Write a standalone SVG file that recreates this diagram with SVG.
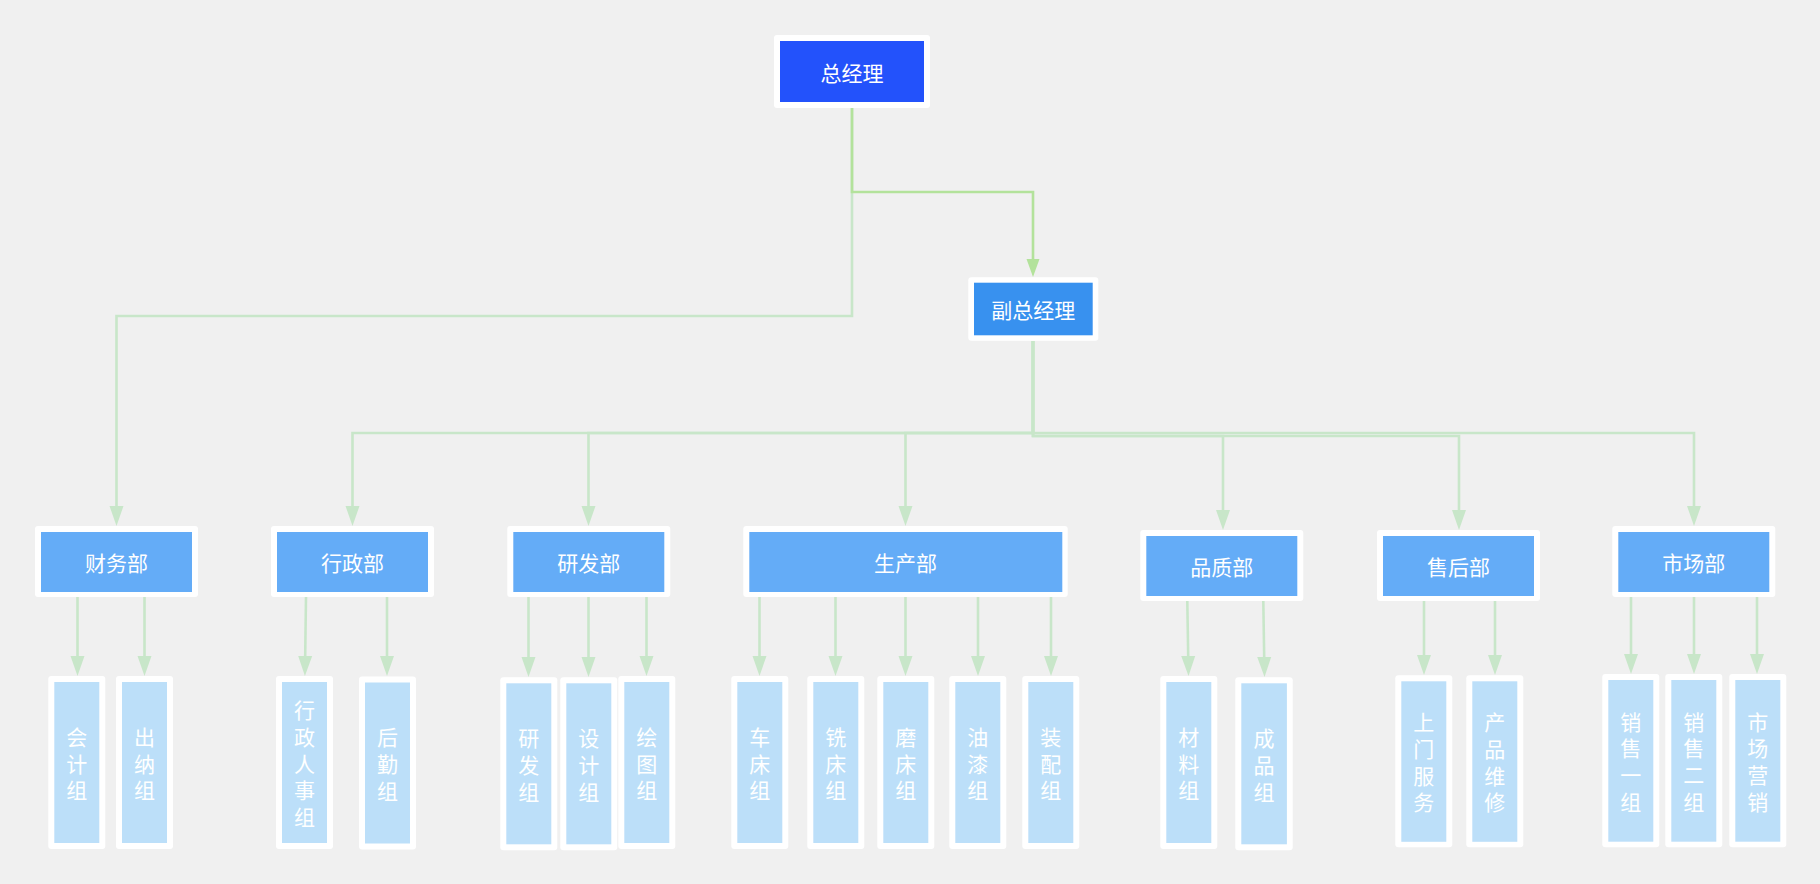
<svg xmlns="http://www.w3.org/2000/svg" width="1820" height="884" viewBox="0 0 1820 884">
<defs>
<style>
.o{fill:#ffffff}
.top{fill:#2352fb}
.vice{fill:#3891ef}
.dept{fill:#64acf7}
.sub{fill:#bcdff9}
text{font-family:"Noto Sans CJK SC","Noto Sans",sans-serif;font-size:21px;fill:#ffffff;text-anchor:middle;dominant-baseline:central}
.c{fill:none;stroke:#c8e6c9;stroke-width:2.6}
.cb{fill:none;stroke:#b3e29b;stroke-width:2.6}
</style>
<marker id="ap" markerUnits="userSpaceOnUse" markerWidth="20" markerHeight="14" viewBox="0 -7 20 14" refX="0" refY="0" orient="auto" overflow="visible">
<path d="M0,-7 L20,0 L0,7 z" fill="#c8e6c9"/>
</marker>
<marker id="ab" markerUnits="userSpaceOnUse" markerWidth="18" markerHeight="13" viewBox="0 -6.5 18 13" refX="0" refY="0" orient="auto" overflow="visible">
<path d="M0,-6.5 L18,0 L0,6.5 z" fill="#b3e29b"/>
</marker>
</defs>
<rect x="0" y="0" width="1820" height="884" fill="#f0f0f0"/>

<g id="connectors">
<path class="c" d="M852,108 V316 H116.5 V506" marker-end="url(#ap)"/>
<path class="cb" d="M852,108 V192 H1033 V259" marker-end="url(#ab)"/>
<path class="c" d="M1033,341 V433 H352.5 V506" marker-end="url(#ap)"/>
<path class="c" d="M1033,341 V433 H588.5 V506" marker-end="url(#ap)"/>
<path class="c" d="M1033,341 V433 H905.5 V506" marker-end="url(#ap)"/>
<path class="c" d="M1033,341 V436 H1223 V510" marker-end="url(#ap)"/>
<path class="c" d="M1033,341 V436 H1459 V510" marker-end="url(#ap)"/>
<path class="c" d="M1033,341 V433 H1694 V506" marker-end="url(#ap)"/>
<path class="c" d="M77.5,597 V656" marker-end="url(#ap)"/>
<path class="c" d="M144.5,597 V656" marker-end="url(#ap)"/>
<path class="c" d="M306,597 L305.2,656" marker-end="url(#ap)"/>
<path class="c" d="M387,597 V656" marker-end="url(#ap)"/>
<path class="c" d="M528.5,597 V657" marker-end="url(#ap)"/>
<path class="c" d="M588.5,597 V657" marker-end="url(#ap)"/>
<path class="c" d="M646.5,597 V656" marker-end="url(#ap)"/>
<path class="c" d="M759.5,597 V656" marker-end="url(#ap)"/>
<path class="c" d="M835.5,597 V656" marker-end="url(#ap)"/>
<path class="c" d="M905.5,597 V656" marker-end="url(#ap)"/>
<path class="c" d="M978,597 V656" marker-end="url(#ap)"/>
<path class="c" d="M1051,597 V656" marker-end="url(#ap)"/>
<path class="c" d="M1187.3,601 L1188.2,656" marker-end="url(#ap)"/>
<path class="c" d="M1263.3,601 L1264.2,657" marker-end="url(#ap)"/>
<path class="c" d="M1424,601 V655" marker-end="url(#ap)"/>
<path class="c" d="M1495,601 V655" marker-end="url(#ap)"/>
<path class="c" d="M1631,597 V654" marker-end="url(#ap)"/>
<path class="c" d="M1694,597 V654" marker-end="url(#ap)"/>
<path class="c" d="M1757,597 V654" marker-end="url(#ap)"/>
</g>

<g id="n-zjl">
<rect class="o" x="774" y="35" width="156" height="73" rx="3"/>
<rect class="top" x="780" y="41" width="144" height="61"/>
<text x="852" y="71.5">总经理</text>
</g>
<g id="n-fzjl">
<rect class="o" x="968.3" y="277.3" width="130" height="63.4" rx="3"/>
<rect class="vice" x="974" y="282.7" width="118.7" height="52.6"/>
<text x="1033.3" y="309">副总经理</text>
</g>

<g id="d-cw">
<rect class="o" x="35" y="526" width="163" height="71" rx="3"/>
<rect class="dept" x="41" y="532" width="151" height="60"/>
<text x="116.5" y="562">财务部</text>
</g>
<g id="d-xz">
<rect class="o" x="271" y="526" width="163" height="71" rx="3"/>
<rect class="dept" x="277" y="532" width="151" height="60"/>
<text x="352.5" y="562">行政部</text>
</g>
<g id="d-yf">
<rect class="o" x="507.3" y="526" width="163" height="71" rx="3"/>
<rect class="dept" x="513.3" y="532" width="151" height="60"/>
<text x="588.8" y="562">研发部</text>
</g>
<g id="d-sc">
<rect class="o" x="743.3" y="526" width="324.4" height="71" rx="3"/>
<rect class="dept" x="749.3" y="532" width="313" height="60"/>
<text x="905.5" y="562">生产部</text>
</g>
<g id="d-pz">
<rect class="o" x="1140.3" y="530" width="163" height="71" rx="3"/>
<rect class="dept" x="1146.3" y="536" width="151" height="60"/>
<text x="1221.8" y="566">品质部</text>
</g>
<g id="d-sh">
<rect class="o" x="1377" y="530" width="163" height="71" rx="3"/>
<rect class="dept" x="1383" y="536" width="151" height="60"/>
<text x="1458.5" y="566">售后部</text>
</g>
<g id="d-scb">
<rect class="o" x="1612.3" y="526" width="163" height="71" rx="3"/>
<rect class="dept" x="1618.3" y="532" width="151" height="60"/>
<text x="1693.8" y="562">市场部</text>
</g>

<g id="s-kj">
<rect class="o" x="48.3" y="676" width="57" height="173" rx="3"/>
<rect class="sub" x="54.3" y="682" width="45" height="161"/>
<text><tspan x="76.8" y="735.8">会</tspan><tspan x="76.8" y="762.5">计</tspan><tspan x="76.8" y="789.2">组</tspan></text>
</g>
<g id="s-cn">
<rect class="o" x="116" y="676" width="57" height="173" rx="3"/>
<rect class="sub" x="122" y="682" width="45" height="161"/>
<text><tspan x="144.5" y="735.8">出</tspan><tspan x="144.5" y="762.5">纳</tspan><tspan x="144.5" y="789.2">组</tspan></text>
</g>
<g id="s-xzrs">
<rect class="o" x="276" y="676" width="57" height="173" rx="3"/>
<rect class="sub" x="282" y="682" width="45" height="161"/>
<text><tspan x="304.5" y="709.1">行</tspan><tspan x="304.5" y="735.8">政</tspan><tspan x="304.5" y="762.5">人</tspan><tspan x="304.5" y="789.2">事</tspan><tspan x="304.5" y="815.9">组</tspan></text>
</g>
<g id="s-hq">
<rect class="o" x="359" y="676.5" width="57" height="173" rx="3"/>
<rect class="sub" x="365" y="682.5" width="45" height="161"/>
<text><tspan x="387.5" y="736.3">后</tspan><tspan x="387.5" y="763">勤</tspan><tspan x="387.5" y="789.7">组</tspan></text>
</g>
<g id="s-yfz">
<rect class="o" x="500.3" y="677.3" width="57" height="173" rx="3"/>
<rect class="sub" x="506.3" y="683.3" width="45" height="161"/>
<text><tspan x="528.8" y="737.1">研</tspan><tspan x="528.8" y="763.8">发</tspan><tspan x="528.8" y="790.5">组</tspan></text>
</g>
<g id="s-sj">
<rect class="o" x="560.3" y="677.3" width="57" height="173" rx="3"/>
<rect class="sub" x="566.3" y="683.3" width="45" height="161"/>
<text><tspan x="588.8" y="737.1">设</tspan><tspan x="588.8" y="763.8">计</tspan><tspan x="588.8" y="790.5">组</tspan></text>
</g>
<g id="s-ht">
<rect class="o" x="618.3" y="676" width="57" height="173" rx="3"/>
<rect class="sub" x="624.3" y="682" width="45" height="161"/>
<text><tspan x="646.8" y="735.8">绘</tspan><tspan x="646.8" y="762.5">图</tspan><tspan x="646.8" y="789.2">组</tspan></text>
</g>
<g id="s-cc">
<rect class="o" x="731.3" y="676" width="57" height="173" rx="3"/>
<rect class="sub" x="737.3" y="682" width="45" height="161"/>
<text><tspan x="759.8" y="735.8">车</tspan><tspan x="759.8" y="762.5">床</tspan><tspan x="759.8" y="789.2">组</tspan></text>
</g>
<g id="s-xc">
<rect class="o" x="807.3" y="676" width="57" height="173" rx="3"/>
<rect class="sub" x="813.3" y="682" width="45" height="161"/>
<text><tspan x="835.8" y="735.8">铣</tspan><tspan x="835.8" y="762.5">床</tspan><tspan x="835.8" y="789.2">组</tspan></text>
</g>
<g id="s-mc">
<rect class="o" x="877.3" y="676" width="57" height="173" rx="3"/>
<rect class="sub" x="883.3" y="682" width="45" height="161"/>
<text><tspan x="905.8" y="735.8">磨</tspan><tspan x="905.8" y="762.5">床</tspan><tspan x="905.8" y="789.2">组</tspan></text>
</g>
<g id="s-yq">
<rect class="o" x="949.3" y="676" width="57" height="173" rx="3"/>
<rect class="sub" x="955.3" y="682" width="45" height="161"/>
<text><tspan x="977.8" y="735.8">油</tspan><tspan x="977.8" y="762.5">漆</tspan><tspan x="977.8" y="789.2">组</tspan></text>
</g>
<g id="s-zp">
<rect class="o" x="1022.3" y="676" width="57" height="173" rx="3"/>
<rect class="sub" x="1028.3" y="682" width="45" height="161"/>
<text><tspan x="1050.8" y="735.8">装</tspan><tspan x="1050.8" y="762.5">配</tspan><tspan x="1050.8" y="789.2">组</tspan></text>
</g>
<g id="s-cl">
<rect class="o" x="1160.3" y="676" width="57" height="173" rx="3"/>
<rect class="sub" x="1166.3" y="682" width="45" height="161"/>
<text><tspan x="1188.8" y="735.8">材</tspan><tspan x="1188.8" y="762.5">料</tspan><tspan x="1188.8" y="789.2">组</tspan></text>
</g>
<g id="s-cp">
<rect class="o" x="1235.3" y="677.3" width="57.4" height="173" rx="3"/>
<rect class="sub" x="1241.3" y="683.3" width="45.6" height="161"/>
<text><tspan x="1264" y="737.1">成</tspan><tspan x="1264" y="763.8">品</tspan><tspan x="1264" y="790.5">组</tspan></text>
</g>
<g id="s-smfw">
<rect class="o" x="1395.3" y="675.3" width="57" height="172" rx="3"/>
<rect class="sub" x="1401.3" y="681.3" width="45" height="160.5"/>
<text><tspan x="1423.8" y="721.3">上</tspan><tspan x="1423.8" y="748">门</tspan><tspan x="1423.8" y="774.6">服</tspan><tspan x="1423.8" y="801.3">务</tspan></text>
</g>
<g id="s-cpwx">
<rect class="o" x="1466.3" y="675.3" width="57" height="172" rx="3"/>
<rect class="sub" x="1472.3" y="681.3" width="45" height="160.5"/>
<text><tspan x="1494.8" y="721.3">产</tspan><tspan x="1494.8" y="748">品</tspan><tspan x="1494.8" y="774.6">维</tspan><tspan x="1494.8" y="801.3">修</tspan></text>
</g>
<g id="s-xs1">
<rect class="o" x="1602.3" y="674" width="57" height="173.3" rx="3"/>
<rect class="sub" x="1608.3" y="680" width="45" height="161.7"/>
<text><tspan x="1630.8" y="720.5">销</tspan><tspan x="1630.8" y="747.2">售</tspan><tspan x="1630.8" y="773.8">一</tspan><tspan x="1630.8" y="800.5">组</tspan></text>
</g>
<g id="s-xs2">
<rect class="o" x="1665.3" y="674" width="57" height="173.3" rx="3"/>
<rect class="sub" x="1671.3" y="680" width="45" height="161.7"/>
<text><tspan x="1693.8" y="720.5">销</tspan><tspan x="1693.8" y="747.2">售</tspan><tspan x="1693.8" y="773.8">二</tspan><tspan x="1693.8" y="800.5">组</tspan></text>
</g>
<g id="s-scyx">
<rect class="o" x="1729.3" y="674" width="57" height="173.3" rx="3"/>
<rect class="sub" x="1735.3" y="680" width="45" height="161.7"/>
<text><tspan x="1757.8" y="720.5">市</tspan><tspan x="1757.8" y="747.2">场</tspan><tspan x="1757.8" y="773.8">营</tspan><tspan x="1757.8" y="800.5">销</tspan></text>
</g>
</svg>
